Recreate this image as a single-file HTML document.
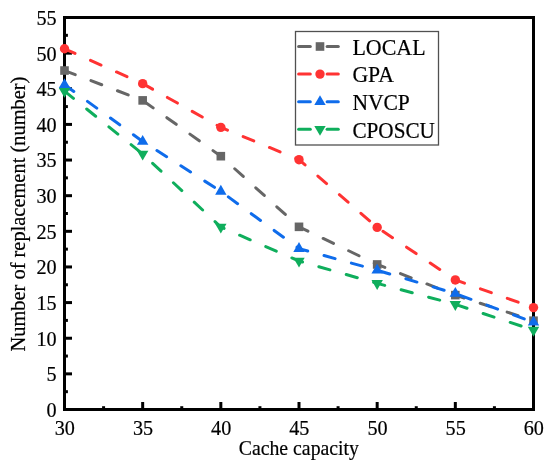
<!DOCTYPE html>
<html><head><meta charset="utf-8"><style>
html,body{margin:0;padding:0;background:#fff;}
svg{display:block;}
text{font-family:"Liberation Serif", "Times New Roman", serif;fill:#000;stroke:#000;stroke-width:0.2px;}
</style></head><body>
<svg width="550" height="469" viewBox="0 0 550 469">
<rect width="550" height="469" fill="#fff"/>
<rect x="64.5" y="17.5" width="469.0" height="392.0" fill="none" stroke="#000" stroke-width="3"/>
<line x1="64.5" y1="409.50" x2="72.00" y2="409.50" stroke="#000" stroke-width="3"/>
<line x1="64.5" y1="391.68" x2="67.90" y2="391.68" stroke="#000" stroke-width="3"/>
<text transform="translate(56.70,416.90) scale(0.940,1)" font-size="21.5" text-anchor="end">0</text>
<line x1="64.5" y1="373.86" x2="72.00" y2="373.86" stroke="#000" stroke-width="3"/>
<line x1="64.5" y1="356.05" x2="67.90" y2="356.05" stroke="#000" stroke-width="3"/>
<text transform="translate(56.70,381.26) scale(0.940,1)" font-size="21.5" text-anchor="end">5</text>
<line x1="64.5" y1="338.23" x2="72.00" y2="338.23" stroke="#000" stroke-width="3"/>
<line x1="64.5" y1="320.41" x2="67.90" y2="320.41" stroke="#000" stroke-width="3"/>
<text transform="translate(56.70,345.63) scale(0.940,1)" font-size="21.5" text-anchor="end">10</text>
<line x1="64.5" y1="302.59" x2="72.00" y2="302.59" stroke="#000" stroke-width="3"/>
<line x1="64.5" y1="284.77" x2="67.90" y2="284.77" stroke="#000" stroke-width="3"/>
<text transform="translate(56.70,309.99) scale(0.940,1)" font-size="21.5" text-anchor="end">15</text>
<line x1="64.5" y1="266.95" x2="72.00" y2="266.95" stroke="#000" stroke-width="3"/>
<line x1="64.5" y1="249.14" x2="67.90" y2="249.14" stroke="#000" stroke-width="3"/>
<text transform="translate(56.70,274.35) scale(0.940,1)" font-size="21.5" text-anchor="end">20</text>
<line x1="64.5" y1="231.32" x2="72.00" y2="231.32" stroke="#000" stroke-width="3"/>
<line x1="64.5" y1="213.50" x2="67.90" y2="213.50" stroke="#000" stroke-width="3"/>
<text transform="translate(56.70,238.72) scale(0.940,1)" font-size="21.5" text-anchor="end">25</text>
<line x1="64.5" y1="195.68" x2="72.00" y2="195.68" stroke="#000" stroke-width="3"/>
<line x1="64.5" y1="177.86" x2="67.90" y2="177.86" stroke="#000" stroke-width="3"/>
<text transform="translate(56.70,203.08) scale(0.940,1)" font-size="21.5" text-anchor="end">30</text>
<line x1="64.5" y1="160.05" x2="72.00" y2="160.05" stroke="#000" stroke-width="3"/>
<line x1="64.5" y1="142.23" x2="67.90" y2="142.23" stroke="#000" stroke-width="3"/>
<text transform="translate(56.70,167.45) scale(0.940,1)" font-size="21.5" text-anchor="end">35</text>
<line x1="64.5" y1="124.41" x2="72.00" y2="124.41" stroke="#000" stroke-width="3"/>
<line x1="64.5" y1="106.59" x2="67.90" y2="106.59" stroke="#000" stroke-width="3"/>
<text transform="translate(56.70,131.81) scale(0.940,1)" font-size="21.5" text-anchor="end">40</text>
<line x1="64.5" y1="88.77" x2="72.00" y2="88.77" stroke="#000" stroke-width="3"/>
<line x1="64.5" y1="70.95" x2="67.90" y2="70.95" stroke="#000" stroke-width="3"/>
<text transform="translate(56.70,96.17) scale(0.940,1)" font-size="21.5" text-anchor="end">45</text>
<line x1="64.5" y1="53.14" x2="72.00" y2="53.14" stroke="#000" stroke-width="3"/>
<line x1="64.5" y1="35.32" x2="67.90" y2="35.32" stroke="#000" stroke-width="3"/>
<text transform="translate(56.70,60.54) scale(0.940,1)" font-size="21.5" text-anchor="end">50</text>
<line x1="64.5" y1="17.50" x2="72.00" y2="17.50" stroke="#000" stroke-width="3"/>
<text transform="translate(56.70,24.90) scale(0.940,1)" font-size="21.5" text-anchor="end">55</text>
<line x1="64.50" y1="409.5" x2="64.50" y2="402.00" stroke="#000" stroke-width="3"/>
<line x1="103.58" y1="409.5" x2="103.58" y2="406.20" stroke="#000" stroke-width="3"/>
<text transform="translate(64.80,434.80) scale(0.940,1)" font-size="21.5" text-anchor="middle">30</text>
<line x1="142.67" y1="409.5" x2="142.67" y2="402.00" stroke="#000" stroke-width="3"/>
<line x1="181.75" y1="409.5" x2="181.75" y2="406.20" stroke="#000" stroke-width="3"/>
<text transform="translate(142.97,434.80) scale(0.940,1)" font-size="21.5" text-anchor="middle">35</text>
<line x1="220.83" y1="409.5" x2="220.83" y2="402.00" stroke="#000" stroke-width="3"/>
<line x1="259.92" y1="409.5" x2="259.92" y2="406.20" stroke="#000" stroke-width="3"/>
<text transform="translate(221.13,434.80) scale(0.940,1)" font-size="21.5" text-anchor="middle">40</text>
<line x1="299.00" y1="409.5" x2="299.00" y2="402.00" stroke="#000" stroke-width="3"/>
<line x1="338.08" y1="409.5" x2="338.08" y2="406.20" stroke="#000" stroke-width="3"/>
<text transform="translate(299.30,434.80) scale(0.940,1)" font-size="21.5" text-anchor="middle">45</text>
<line x1="377.17" y1="409.5" x2="377.17" y2="402.00" stroke="#000" stroke-width="3"/>
<line x1="416.25" y1="409.5" x2="416.25" y2="406.20" stroke="#000" stroke-width="3"/>
<text transform="translate(377.47,434.80) scale(0.940,1)" font-size="21.5" text-anchor="middle">50</text>
<line x1="455.33" y1="409.5" x2="455.33" y2="402.00" stroke="#000" stroke-width="3"/>
<line x1="494.42" y1="409.5" x2="494.42" y2="406.20" stroke="#000" stroke-width="3"/>
<text transform="translate(455.63,434.80) scale(0.940,1)" font-size="21.5" text-anchor="middle">55</text>
<line x1="533.50" y1="409.5" x2="533.50" y2="402.00" stroke="#000" stroke-width="3"/>
<text transform="translate(533.80,434.80) scale(0.940,1)" font-size="21.5" text-anchor="middle">60</text>
<text transform="translate(298.85,454.60) scale(0.900,1)" font-size="22" text-anchor="middle">Cache capacity</text>
<text transform="translate(24.60,214.10) rotate(-90) scale(0.973,1)" font-size="21" text-anchor="middle">Number of replacement (number)</text>
<polyline points="64.50,70.53 142.67,100.39 220.83,156.20 299.00,226.83 377.17,264.46 455.33,295.11 533.50,320.69" fill="none" stroke="#666666" stroke-width="3.0" stroke-dasharray="11.5 16.85" stroke-linecap="round" stroke-linejoin="round"/>
<polyline points="64.50,48.79 142.67,83.64 220.83,127.33 299.00,159.69 377.17,227.40 455.33,279.93 533.50,307.58" fill="none" stroke="#FF3333" stroke-width="3.0" stroke-dasharray="11.5 16.97" stroke-linecap="round" stroke-linejoin="round"/>
<polyline points="64.50,84.71 142.67,141.44 220.83,191.41 299.00,248.64 377.17,270.23 455.33,293.54 533.50,322.26" fill="none" stroke="#0F6CEB" stroke-width="3.0" stroke-dasharray="11.5 16.88" stroke-linecap="round" stroke-linejoin="round"/>
<polyline points="64.50,91.20 142.67,153.99 220.83,227.04 299.00,261.04 377.17,283.35 455.33,304.37 533.50,330.10" fill="none" stroke="#0FAE5C" stroke-width="3.0" stroke-dasharray="11.5 16.97" stroke-linecap="round" stroke-linejoin="round"/>
<rect x="60.20" y="66.23" width="8.60" height="8.60" fill="#666666"/>
<rect x="138.37" y="96.09" width="8.60" height="8.60" fill="#666666"/>
<rect x="216.53" y="151.90" width="8.60" height="8.60" fill="#666666"/>
<rect x="294.70" y="222.53" width="8.60" height="8.60" fill="#666666"/>
<rect x="372.87" y="260.16" width="8.60" height="8.60" fill="#666666"/>
<rect x="451.03" y="290.81" width="8.60" height="8.60" fill="#666666"/>
<rect x="529.20" y="316.39" width="8.60" height="8.60" fill="#666666"/>
<circle cx="64.50" cy="48.79" r="4.70" fill="#FF3333"/>
<circle cx="142.67" cy="83.64" r="4.70" fill="#FF3333"/>
<circle cx="220.83" cy="127.33" r="4.70" fill="#FF3333"/>
<circle cx="299.00" cy="159.69" r="4.70" fill="#FF3333"/>
<circle cx="377.17" cy="227.40" r="4.70" fill="#FF3333"/>
<circle cx="455.33" cy="279.93" r="4.70" fill="#FF3333"/>
<circle cx="533.50" cy="307.58" r="4.70" fill="#FF3333"/>
<polygon points="64.50,78.18 70.20,87.98 58.80,87.98" fill="#0F6CEB"/>
<polygon points="142.67,134.91 148.37,144.71 136.97,144.71" fill="#0F6CEB"/>
<polygon points="220.83,184.87 226.53,194.67 215.13,194.67" fill="#0F6CEB"/>
<polygon points="299.00,242.10 304.70,251.90 293.30,251.90" fill="#0F6CEB"/>
<polygon points="377.17,263.70 382.87,273.50 371.47,273.50" fill="#0F6CEB"/>
<polygon points="455.33,287.01 461.03,296.81 449.63,296.81" fill="#0F6CEB"/>
<polygon points="533.50,315.73 539.20,325.53 527.80,325.53" fill="#0F6CEB"/>
<polygon points="64.50,97.73 70.20,87.93 58.80,87.93" fill="#0FAE5C"/>
<polygon points="142.67,160.52 148.37,150.72 136.97,150.72" fill="#0FAE5C"/>
<polygon points="220.83,233.58 226.53,223.78 215.13,223.78" fill="#0FAE5C"/>
<polygon points="299.00,267.57 304.70,257.77 293.30,257.77" fill="#0FAE5C"/>
<polygon points="377.17,289.88 382.87,280.08 371.47,280.08" fill="#0FAE5C"/>
<polygon points="455.33,310.91 461.03,301.11 449.63,301.11" fill="#0FAE5C"/>
<polygon points="533.50,336.64 539.20,326.84 527.80,326.84" fill="#0FAE5C"/>
<rect x="295.5" y="31.5" width="143" height="113.5" fill="#fff" stroke="#505050" stroke-width="1.3"/>
<line x1="298.6" y1="46.5" x2="310.3" y2="46.5" stroke="#666666" stroke-width="3" stroke-linecap="round"/>
<line x1="327.1" y1="46.5" x2="338.3" y2="46.5" stroke="#666666" stroke-width="3" stroke-linecap="round"/>
<rect x="315.70" y="42.20" width="8.60" height="8.60" fill="#666666"/>
<text transform="translate(352.40,54.70) scale(0.955,1)" font-size="23">LOCAL</text>
<line x1="298.6" y1="74.1" x2="310.3" y2="74.1" stroke="#FF3333" stroke-width="3" stroke-linecap="round"/>
<line x1="327.1" y1="74.1" x2="338.3" y2="74.1" stroke="#FF3333" stroke-width="3" stroke-linecap="round"/>
<circle cx="320.00" cy="74.10" r="4.70" fill="#FF3333"/>
<text transform="translate(352.40,82.30) scale(0.945,1)" font-size="23">GPA</text>
<line x1="298.6" y1="101.7" x2="310.3" y2="101.7" stroke="#0F6CEB" stroke-width="3" stroke-linecap="round"/>
<line x1="327.1" y1="101.7" x2="338.3" y2="101.7" stroke="#0F6CEB" stroke-width="3" stroke-linecap="round"/>
<polygon points="320.00,95.17 325.70,104.97 314.30,104.97" fill="#0F6CEB"/>
<text transform="translate(352.40,109.90) scale(0.937,1)" font-size="23">NVCP</text>
<line x1="298.6" y1="129.3" x2="310.3" y2="129.3" stroke="#0FAE5C" stroke-width="3" stroke-linecap="round"/>
<line x1="327.1" y1="129.3" x2="338.3" y2="129.3" stroke="#0FAE5C" stroke-width="3" stroke-linecap="round"/>
<polygon points="320.00,135.83 325.70,126.03 314.30,126.03" fill="#0FAE5C"/>
<text transform="translate(352.40,137.50) scale(0.922,1)" font-size="23">CPOSCU</text>
</svg>
</body></html>
